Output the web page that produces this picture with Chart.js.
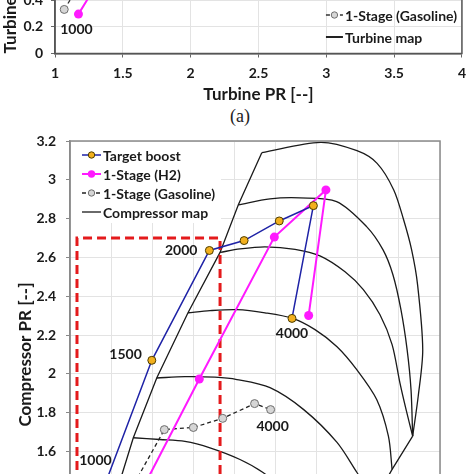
<!DOCTYPE html>
<html>
<head>
<meta charset="utf-8">
<script src="https://cdn.jsdelivr.net/npm/chart.js@4.4.1/dist/chart.umd.min.js"></script>
<style>
  html, body { margin: 0; padding: 0; background: #fff; width: 474px; height: 474px; overflow: hidden; position: relative; }
  canvas { position: absolute; left: 0; }
  #ca { top: -100px; }
  #cb { top: 120px; }
  #capA { position: absolute; left: 0; width: 480px; top: 106px; text-align: center; font: 18px "Liberation Serif", serif; color: #222; }
</style>
</head>
<body>
<canvas id="ca" width="474" height="206"></canvas>
<div id="capA">(a)</div>
<canvas id="cb" width="474" height="498"></canvas>
<script>
// ---- (a) turbine map, only the lower strip is in view
const h2TurbPR = [1.173, 1.26, 1.40];
const h2TurbY = [0.295, 0.44, 0.60];
const gasTurbPR = [1.068, 1.16, 1.30];
const gasTurbY = [0.33, 0.48, 0.62];
const turbMapPR = [1.3, 1.6, 2.0, 2.5, 3.0];
const turbMapY = [0.62, 0.68, 0.72, 0.74, 0.75];

// ---- (b) compressor map
const rpm = [1000, 1500, 2000, 2500, 3000, 3500, 4000];
const tbFlow = [0.0170, 0.0398, 0.0678, 0.0847, 0.1018, 0.1184, 0.1080];
const tbPR = [1.43, 2.07, 2.636, 2.687, 2.788, 2.867, 2.286];
const h2Flow = [0.0326, 0.0629, 0.0994, 0.1245, 0.1161];
const h2PR = [1.353, 1.974, 2.705, 2.948, 2.301];
const gasFlow = [0.0297, 0.0459, 0.0600, 0.0743, 0.0898, 0.0976];
const gasPR = [1.405, 1.713, 1.724, 1.771, 1.847, 1.816];

const surgeFlow = [0.0185, 0.0308, 0.0422, 0.0574, 0.0730, 0.0819, 0.0933];
const surgePR = [1.250, 1.671, 1.979, 2.315, 2.626, 2.871, 3.140];
const chokeFlow = [0.1667, 0.1567, 0.1484, 0.1314];
const chokePR = [1.679, 1.508, 1.353, 1.086];
const speedFlow = [
  [0.0933, 0.1218, 0.1396, 0.1494, 0.1575, 0.1623, 0.1662, 0.1691, 0.1716, 0.1694, 0.1667],
  [0.0819, 0.0973, 0.1119, 0.1297, 0.1443, 0.1523, 0.1571, 0.1610, 0.1640, 0.1659, 0.1667],
  [0.0730, 0.0827, 0.0949, 0.1095, 0.1216, 0.1338, 0.1427, 0.1508, 0.1567, 0.1605, 0.1635, 0.1667],
  [0.0574, 0.0681, 0.0812, 0.0949, 0.1080, 0.1192, 0.1299, 0.1395, 0.1492, 0.1549, 0.1567],
  [0.0422, 0.0559, 0.0705, 0.0812, 0.0973, 0.1137, 0.1299, 0.1396, 0.1484],
  [0.0308, 0.0438, 0.0559, 0.0681, 0.0827, 0.0939, 0.1070, 0.1216, 0.1314]
];
const speedPR = [
  [3.140, 3.193, 3.150, 3.085, 2.948, 2.794, 2.639, 2.459, 2.125, 1.885, 1.679],
  [2.871, 2.902, 2.907, 2.888, 2.759, 2.639, 2.511, 2.331, 2.125, 1.919, 1.679],
  [2.626, 2.644, 2.655, 2.642, 2.608, 2.526, 2.434, 2.305, 2.151, 1.954, 1.816, 1.679],
  [2.315, 2.326, 2.331, 2.315, 2.287, 2.228, 2.140, 2.022, 1.868, 1.679, 1.508],
  [1.979, 1.986, 1.983, 1.971, 1.929, 1.816, 1.647, 1.492, 1.353],
  [1.671, 1.662, 1.652, 1.619, 1.559, 1.492, 1.379, 1.199, 1.086]
];
const boxFlow = [0.0034, 0.0034, 0.0730, 0.0730];
const boxPR = [1.0, 2.7, 2.7, 1.0];

Chart.defaults.font.family = 'Lato, "Open Sans", sans-serif';
Chart.defaults.color = '#1a1a1a';

const BLUE = '#1e22a6', GOLD = '#f2b01e', MAGENTA = '#ff1aff', RED = '#e41a1c';
const GRID = '#e3e3e3';

const pts = (xs, ys) => xs.map((x, i) => ({x: x, y: ys[i]}));
const fmt = v => String(Math.round(v * 100) / 100);

function drawLegend(chart, x, y, gap, len) {
  const ctx = chart.ctx;
  const items = chart.data.datasets.filter(d => d.legend);
  ctx.save();
  ctx.font = 'bold 14px Lato';
  items.forEach((d, k) => {
    const yy = y + k * gap;
    ctx.strokeStyle = d.borderColor;
    ctx.lineWidth = d.borderWidth;
    ctx.setLineDash(d.borderDash || []);
    ctx.beginPath();
    ctx.moveTo(x, yy);
    ctx.lineTo(x + len, yy);
    ctx.stroke();
    ctx.setLineDash([]);
    if (d.pointRadius > 0) {
      ctx.beginPath();
      ctx.arc(x + len / 2, yy, d.pointRadius - 0.8, 0, Math.PI * 2);
      ctx.fillStyle = d.pointBackgroundColor;
      ctx.fill();
      if (d.pointBorderWidth) {
        ctx.lineWidth = d.pointBorderWidth;
        ctx.strokeStyle = d.pointBorderColor;
        ctx.stroke();
      }
    }
    ctx.fillStyle = '#1a1a1a';
    ctx.textBaseline = 'middle';
    ctx.textAlign = 'left';
    ctx.fillText(d.label, x + len + 2, yy + 1);
  });
  ctx.restore();
}

function drawLabels(chart, list) {
  const ctx = chart.ctx;
  ctx.save();
  ctx.font = 'bold 14px Lato';
  ctx.fillStyle = '#1a1a1a';
  ctx.textBaseline = 'middle';
  list.forEach(l => {
    const p = chart.data.datasets[l.ds].data[l.i];
    ctx.textAlign = l.align;
    ctx.fillText(l.text, chart.scales.x.getPixelForValue(p.x) + l.dx, chart.scales.y.getPixelForValue(p.y) + l.dy);
  });
  ctx.restore();
}

function drawFrame(chart, color) {
  const ctx = chart.ctx, a = chart.chartArea;
  ctx.save();
  ctx.strokeStyle = color;
  ctx.lineWidth = 1.5;
  ctx.strokeRect(a.left, a.top, a.right - a.left, a.bottom - a.top);
  ctx.restore();
}

// ---------- chart (a)
const aLabels = [{ds: 0, i: 0, text: String(rpm[0]), dx: -2, dy: 15, align: 'center'}];

new Chart(document.getElementById('ca'), {
  type: 'scatter',
  data: {
    datasets: [
      {label: '1-Stage (H2)', data: pts(h2TurbPR, h2TurbY), showLine: true, borderColor: MAGENTA, borderWidth: 2,
       pointRadius: 4.5, pointBackgroundColor: MAGENTA, pointBorderColor: MAGENTA, pointBorderWidth: 0},
      {label: '1-Stage (Gasoline)', legend: true, data: pts(gasTurbPR, gasTurbY), showLine: true, borderColor: '#333', borderWidth: 1.3,
       borderDash: [4, 3], pointRadius: 4, pointBackgroundColor: '#d6d6d6', pointBorderColor: '#6e6e6e', pointBorderWidth: 1},
      {label: 'Turbine map', legend: true, data: pts(turbMapPR, turbMapY), showLine: true, borderColor: '#222', borderWidth: 2,
       pointRadius: 0, tension: 0.3}
    ]
  },
  options: {
    responsive: false, animation: false, devicePixelRatio: 1,
    layout: {padding: {top: 20, right: 8, left: 0, bottom: 0}},
    plugins: {legend: {display: false}, tooltip: {enabled: false}},
    scales: {
      x: {
        type: 'linear', min: 1, max: 4,
        ticks: {stepSize: 0.5, padding: 8, autoSkip: false, font: {size: 14, weight: 'bold'}, callback: fmt},
        grid: {color: GRID, tickLength: 4, tickColor: '#666'},
        border: {color: '#555', width: 1.5},
        title: {display: true, text: 'Turbine PR [--]', font: {size: 17, weight: 'bold'}, padding: {top: 0, bottom: 1}},
        afterFit: s => { s.height = 52.5; }
      },
      y: {
        min: 0, max: 1,
        ticks: {stepSize: 0.2, padding: 8, autoSkip: false, font: {size: 14, weight: 'bold'}, callback: fmt},
        grid: {color: GRID, tickLength: 4, tickColor: '#666'},
        border: {color: '#555', width: 1.5},
        title: {display: true, text: 'Turbine efficiency [--]', align: 'start', font: {size: 17, weight: 'bold'}, padding: {top: 0, bottom: 0}},
        afterFit: s => { s.width = 55; }
      }
    }
  },
  plugins: [{
    id: 'decorA',
    afterDatasetsDraw(chart) {
      drawFrame(chart, '#555');
      drawLabels(chart, aLabels);
      const a = chart.chartArea;
      drawLegend(chart, a.right - 136, a.bottom - 38.5, 22, 17);
    }
  }]
});

// ---------- chart (b)
const bLabels = [
  {ds: 0, i: 0, text: String(rpm[0]), dx: -9.5, dy: -24, align: 'center'},
  {ds: 0, i: 1, text: String(rpm[1]), dx: -10, dy: -6, align: 'right'},
  {ds: 0, i: 2, text: String(rpm[2]), dx: -12, dy: 0, align: 'right'},
  {ds: 0, i: 6, text: String(rpm[6]), dx: 0, dy: 15, align: 'center'},
  {ds: 2, i: 5, text: String(rpm[6]), dx: 2, dy: 17, align: 'center'}
];

const mapSets = speedFlow.map((f, k) => ({
  label: 'Compressor map', legend: k === 0, data: pts(f, speedPR[k]), showLine: true,
  borderColor: '#1a1a1a', borderWidth: 1.3, pointRadius: 0, tension: 0.3
}));
mapSets.push({label: 'surge', data: pts(surgeFlow, surgePR), showLine: true, borderColor: '#1a1a1a', borderWidth: 1.3, pointRadius: 0});
mapSets.push({label: 'choke', data: pts(chokeFlow, chokePR), showLine: true, borderColor: '#1a1a1a', borderWidth: 1.3, pointRadius: 0});

new Chart(document.getElementById('cb'), {
  type: 'scatter',
  data: {
    datasets: [
      {label: 'Target boost', legend: true, data: pts(tbFlow, tbPR), showLine: true, borderColor: BLUE, borderWidth: 1.5,
       pointRadius: 4, pointBackgroundColor: GOLD, pointBorderColor: '#4d3d00', pointBorderWidth: 1},
      {label: '1-Stage (H2)', legend: true, data: pts(h2Flow, h2PR), showLine: true, borderColor: MAGENTA, borderWidth: 2,
       pointRadius: 4.5, pointBackgroundColor: MAGENTA, pointBorderColor: MAGENTA, pointBorderWidth: 0},
      {label: '1-Stage (Gasoline)', legend: true, data: pts(gasFlow, gasPR), showLine: true, borderColor: '#222', borderWidth: 1.3,
       borderDash: [4, 3], pointRadius: 4, pointBackgroundColor: '#d6d6d6', pointBorderColor: '#6e6e6e', pointBorderWidth: 1},
      {label: 'box', data: pts(boxFlow, boxPR), showLine: true, borderColor: RED, borderWidth: 3, borderDash: [9, 5], pointRadius: 0}
    ].concat(mapSets)
  },
  options: {
    responsive: false, animation: false, devicePixelRatio: 1,
    layout: {padding: {top: 21, right: 34, left: 0, bottom: 0}},
    plugins: {legend: {display: false}, tooltip: {enabled: false}},
    scales: {
      x: {
        type: 'linear', min: 0, max: 0.18,
        ticks: {stepSize: 0.02, padding: 8, autoSkip: false, font: {size: 14, weight: 'bold'}, callback: fmt},
        grid: {color: GRID, tickLength: 4, tickColor: '#888'},
        border: {color: '#8a8a8a', width: 1.5},
        title: {display: true, text: 'Corrected mass flow [kg/s]', font: {size: 17, weight: 'bold'}, padding: {top: 0, bottom: 2}},
        afterFit: s => { s.height = 50; }
      },
      y: {
        min: 1, max: 3.2,
        ticks: {stepSize: 0.2, padding: 10, autoSkip: false, font: {size: 14, weight: 'bold'}, callback: fmt},
        grid: {color: GRID, tickLength: 4, tickColor: '#888'},
        border: {color: '#8a8a8a', width: 1.5},
        title: {display: true, text: 'Compressor PR [--]', font: {size: 17, weight: 'bold'}, padding: {top: 15, bottom: 0}},
        afterFit: s => { s.width = 70; }
      }
    }
  },
  plugins: [{
    id: 'decorB',
    afterDatasetsDraw(chart) {
      const a = chart.chartArea, ctx = chart.ctx;
      ctx.save();
      ctx.fillStyle = '#fff';
      ctx.fillRect(a.left + 1, a.top + 1, 150, 81);
      ctx.restore();
      drawLegend(chart, a.left + 12, a.top + 14, 19, 19);
      drawLabels(chart, bLabels);
      drawFrame(chart, '#8a8a8a');
    }
  }]
});
</script>
</body>
</html>
